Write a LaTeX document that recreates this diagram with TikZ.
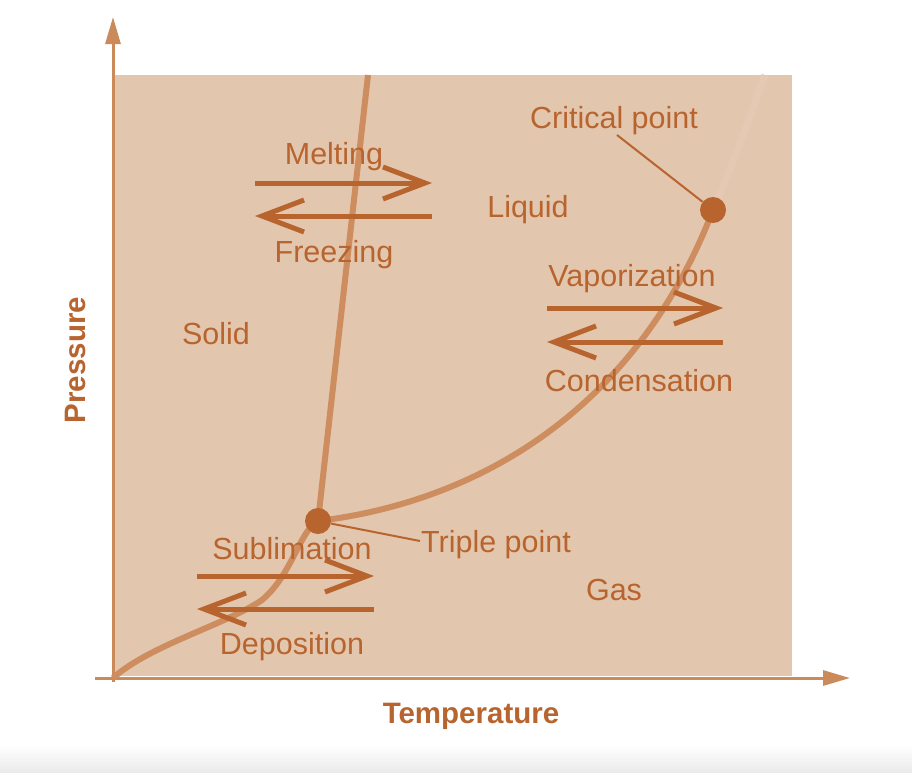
\documentclass[tikz,border=0pt]{standalone}
\usepackage{fontspec}
\setmainfont{Liberation Sans}
\usetikzlibrary{arrows.meta}
\definecolor{bgc}{HTML}{E3C6AE}
\definecolor{txt}{HTML}{B8642E}
\definecolor{crv}{HTML}{CD8D5F}
\definecolor{axc}{HTML}{CB8A5A}
\definecolor{faint}{HTML}{E5C9B2}
\begin{document}
\begin{tikzpicture}[x=1pt,y=-1pt,
  lbl/.style={text=txt,font=\fontsize{30.5}{36}\selectfont,inner sep=0pt,yshift=-3pt},
  axlbl/.style={text=txt,font=\fontsize{29.5}{35}\selectfont\bfseries,inner sep=0pt},
  curve/.style={draw=crv,line width=6pt},
  proc/.style={draw=txt,line width=5pt,-{Straight Barb[length=42pt,width=32pt,line width=5pt]}},
  axis/.style={draw=axc,line width=3pt,-{Triangle[length=27pt,width=15pt]}},
  leader/.style={draw=txt,line width=2pt},
  dot/.style={circle,fill=txt,minimum size=26pt,inner sep=0pt}]
\useasboundingbox (0,0) rectangle (912,772);
\fill[white] (0,0) rectangle (912,772);
\shade[top color=white,bottom color=black!8] (0,745) rectangle (912,772);
% background region
\fill[bgc] (115,75) rectangle (792,676);
% axes
\coordinate (yb) at (113,682);
\coordinate (yt) at (113,17);
\coordinate (xl) at (95,678);
\coordinate (xr) at (850,678);
\draw[axis] (yb) -- (yt);
\draw[axis] (xl) -- (xr);
% key points
\coordinate (O) at (113,678);
\coordinate (TP) at (318,521);
\coordinate (CP) at (713,210);
\coordinate (MT) at (368,75);
\coordinate (FE) at (765,75);
% curves
\draw[draw=faint,line width=7pt] (CP) .. controls (735,160) and (752,110) .. (FE);
\draw[curve] (TP) -- (MT);
\draw[curve] (TP) .. controls (490,500) and (640,400) .. (CP);
\draw[curve] (O) .. controls (150,645) and (225,625) .. (262,600) .. controls (292,575) and (300,530) .. (TP);
% labels
\node[lbl] (crit) at (614,118) {Critical point};
\node[lbl] (melt) at (334,154) {Melting};
\node[lbl] (free) at (334,252) {Freezing};
\node[lbl] (liq) at (528,207) {Liquid};
\node[lbl] (sol) at (216,331) {Solid};
\node[lbl] (vap) at (632,276) {Vaporization};
\node[lbl] (cond) at (639,378) {Condensation};
\node[lbl] (trip) at (496,542) {Triple point};
\node[lbl] (subl) at (292,546) {Sublimation};
\node[lbl] (gas) at (614,587) {Gas};
\node[lbl] (dep) at (292,644) {Deposition};
\node[axlbl,rotate=90] (pres) at (75,360) {Pressure};
\node[axlbl] (temp) at (471,716) {Temperature};
% dots
\node[dot] (tpd) at (TP) {};
\node[dot] (cpd) at (CP) {};
% leaders
\coordinate (critL) at (617,135);
\coordinate (tripL) at (420,541);
\draw[leader] (critL) -- (cpd);
\draw[leader] (tpd) -- (tripL);
% process arrows
\coordinate (m1) at (255,183); \coordinate (m2) at (432,183);
\coordinate (f1) at (432,216); \coordinate (f2) at (255,216);
\coordinate (v1) at (547,308); \coordinate (v2) at (723,308);
\coordinate (c1) at (723,342); \coordinate (c2) at (547,342);
\coordinate (s1) at (197,576); \coordinate (s2) at (374,576);
\coordinate (d1) at (374,609); \coordinate (d2) at (197,609);
\draw[proc] (m1) -- (m2);
\draw[proc] (f1) -- (f2);
\draw[proc] (v1) -- (v2);
\draw[proc] (c1) -- (c2);
\draw[proc] (s1) -- (s2);
\draw[proc] (d1) -- (d2);
\end{tikzpicture}
\end{document}
